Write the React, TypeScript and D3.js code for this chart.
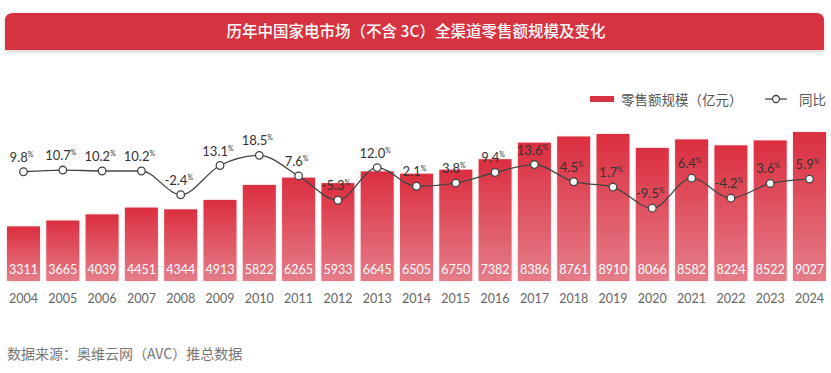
import React from 'react';
import * as d3 from 'd3';

const years = ['2004', '2005', '2006', '2007', '2008', '2009', '2010', '2011', '2012', '2013', '2014', '2015', '2016', '2017', '2018', '2019', '2020', '2021', '2022', '2023', '2024'];
const sales = [3311, 3665, 4039, 4451, 4344, 4913, 5822, 6265, 5933, 6645, 6505, 6750, 7382, 8386, 8761, 8910, 8066, 8582, 8224, 8522, 9027];
const yoy = [9.8, 10.7, 10.2, 10.2, -2.4, 13.1, 18.5, 7.6, -5.3, 12.0, 2.1, 3.8, 9.4, 13.6, 4.5, 1.7, -9.5, 6.4, -4.2, 3.6, 5.9];

const title = '历年中国家电市场（不含 3C）全渠道零售额规模及变化';
const barLegend = '零售额规模（亿元）';
const lineLegend = '同比';
const source = '数据来源：奥维云网（AVC）推总数据';

const W = 831;
const H = 373;
const cjk = '"Noto Sans CJK SC", "Noto Sans", sans-serif';
const num = 'Lato, "Noto Sans", sans-serif';

export default function App() {
  const x = d3.scaleBand().domain(years).range([3.85, 829.15]).paddingInner(0.16).paddingOuter(0.08);
  const y = d3.scaleLinear().domain([0, 10000]).range([281, 116]);
  const yp = d3.scaleLinear().domain([-10, 20]).range([209.1, 152.5]);
  const cx = (i: number) => (x(years[i]) as number) + x.bandwidth() / 2;

  const line = d3
    .line<number>()
    .x((d, i) => cx(i))
    .y(d => yp(d))
    .curve(d3.curveMonotoneX);

  return (
    <svg width={W} height={H} style={{ position: 'absolute', left: 0, top: 0, background: '#fff' }}>
      <defs>
        <linearGradient id="barGrad" x1="0" y1="0" x2="0" y2="1">
          <stop offset="0%" stopColor="#db2e3f" />
          <stop offset="100%" stopColor="#e57d89" />
        </linearGradient>
        <filter id="shadow" x="-5%" y="-20%" width="110%" height="150%">
          <feDropShadow dx="0" dy="2" stdDeviation="2" floodColor="#000" floodOpacity="0.18" />
        </filter>
        <filter id="glow" x="-20%" y="-10%" width="140%" height="120%">
          <feDropShadow dx="0" dy="0" stdDeviation="1.5" floodColor="#e58a94" floodOpacity="0.35" />
        </filter>
      </defs>

      {/* title banner */}
      <path d={`M5,50 V21 Q5,13 13,13 H816 Q824,13 824,21 V50 Z`} fill="#d7323f" filter="url(#shadow)" />
      <text x={416} y={36.5} textAnchor="middle" fill="#fff" fontSize={15.5} fontWeight={500} fontFamily={cjk}>
        {title}
      </text>

      {/* legend */}
      <rect x={590} y={96} width={24} height={6} fill="#d7323f" />
      <text x={621} y={104.5} fontSize={13.5} fill="#555" fontFamily={cjk}>{barLegend}</text>
      <line x1={765} x2={787} y1={99} y2={99} stroke="#444" strokeWidth={1.3} />
      <circle cx={776} cy={99} r={3.5} fill="#fff" stroke="#444" strokeWidth={1.3} />
      <text x={799} y={104.5} fontSize={13.5} fill="#555" fontFamily={cjk}>{lineLegend}</text>

      {/* bars */}
      <g filter="url(#glow)">
        {sales.map((v, i) => (
          <rect key={years[i]} x={x(years[i])} y={y(v)} width={x.bandwidth()} height={y(0) - y(v)} fill="url(#barGrad)" />
        ))}
      </g>
      {sales.map((v, i) => (
        <text key={'v' + i} x={cx(i)} y={273.5} textAnchor="middle" fontSize={12.5} fill="#fff" fontFamily={num}>
          {v}
        </text>
      ))}

      {/* x axis labels */}
      {years.map((yr, i) => (
        <text key={'y' + yr} x={cx(i)} y={303} textAnchor="middle" fontSize={12.5} fill="#666" fontFamily={num}>
          {yr}
        </text>
      ))}

      {/* yoy line */}
      <path d={line(yoy) || ''} fill="none" stroke="#444" strokeWidth={1.3} />
      {yoy.map((v, i) => (
        <circle key={'c' + i} cx={cx(i)} cy={yp(v)} r={3.8} fill="#fff" stroke="#444" strokeWidth={1.3} />
      ))}
      {yoy.map((v, i) => (
        <text key={'p' + i} x={cx(i) - 2} y={yp(v) - 10} textAnchor="middle" fontSize={13} fill="#333" fontFamily={num}>
          {v.toFixed(1)}
          <tspan fontSize={7} dy={-5}>%</tspan>
        </text>
      ))}

      {/* source */}
      <text x={7} y={359} fontSize={14} fill="#777" fontFamily={cjk}>{source}</text>
    </svg>
  );
}
